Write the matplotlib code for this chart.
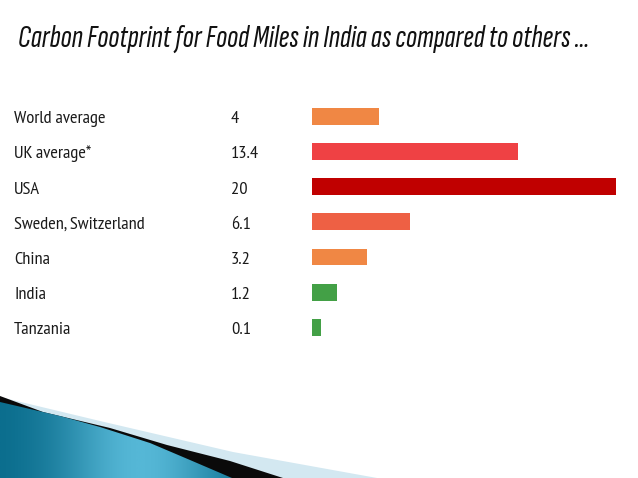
import matplotlib
matplotlib.use("Agg")
import matplotlib.pyplot as plt
import numpy as np
from matplotlib.patches import Polygon
from matplotlib.colors import LinearSegmentedColormap
from matplotlib.transforms import blended_transform_factory, ScaledTranslation

categories = ["World average", "UK average*", "USA", "Sweden, Switzerland", "China", "India", "Tanzania"]
values = [4, 13.4, 20, 6.1, 3.2, 1.2, 0.1]
value_labels = ["4", "13.4", "20", "6.1", "3.2", "1.2", "0.1"]
colors = ["#F08744", "#EF4144", "#C00000", "#EE6044", "#F08744", "#43A046", "#43A046"]
title = "Carbon Footprint for Food Miles in India as compared to others \u2026"

W, H = 638, 478
fig = plt.figure(figsize=(W / 100, H / 100), dpi=100)
fig.patch.set_facecolor("white")
renderer = fig.canvas.get_renderer()


def fit_width(t, target_px):
    w = t.get_window_extent(renderer=renderer).width
    t.set_fontsize(t.get_fontsize() * target_px / w)


# decorative background
bg = fig.add_axes([0, 0, 1, 1], zorder=0)
bg.set_xlim(0, W)
bg.set_ylim(H, 0)
bg.axis("off")
bg.add_patch(Polygon([(0, 397), (100, 421), (233, 452), (377, 478), (0, 478)], closed=True,
                     facecolor="#D3E8F1", edgecolor="none"))
bg.add_patch(Polygon([(0, 396), (43, 412), (110, 428), (167, 445), (230, 461), (283, 478), (0, 478)],
                     closed=True, facecolor="#0A0A0A", edgecolor="none"))
teal = Polygon([(0, 402), (60, 416), (100, 427), (150, 443), (190, 460), (232, 478), (0, 478)],
               closed=True, facecolor="none", edgecolor="none")
bg.add_patch(teal)
gx = np.linspace(0, 1, 256)
grad = np.exp(-((gx - 0.6) / 0.35) ** 2)
img = np.outer(np.ones(10), grad)
cmap = LinearSegmentedColormap.from_list("teal", ["#0B6E8E", "#55B7D6"])
im = bg.imshow(img, extent=[0, 235, 478, 398], cmap=cmap, aspect="auto", zorder=1)
im.set_clip_path(teal)

ax = fig.add_axes([312 / W, 1 - 345 / H, 304 / W, 246.5 / H], zorder=2)
ax.patch.set_alpha(0)
offset = 0.506
y = np.arange(len(categories))
ax.barh(y, [v + offset for v in values], left=-offset, height=0.48, color=colors)
ax.set_xlim(-offset, 20)
ax.set_ylim(len(categories) - 0.5, -0.5)
ax.axis("off")

tr = blended_transform_factory(fig.transFigure, ax.transData) + \
    ScaledTranslation(0, -7 / 100, fig.dpi_scale_trans)
font = ["PT Sans Narrow", "Roboto Condensed", "DejaVu Sans"]
texts = []
for i, (c, vl) in enumerate(zip(categories, value_labels)):
    t1 = ax.text(14 / W, i, c, transform=tr, ha="left", va="baseline", fontsize=12,
                 family=font, weight="normal", color="#1a1a1a")
    t2 = ax.text(231 / W, i, vl, transform=tr, ha="left", va="baseline", fontsize=12,
                 family=font, weight="normal", color="#1a1a1a")
    texts += [t1, t2]
fit_width(texts[6], 131)
fs = texts[6].get_fontsize()
for t in texts:
    t.set_fontsize(fs)

tt = fig.text(18 / W, 1 - 47 / H, title, ha="left", va="baseline", fontsize=20,
              family=["Sofia Sans Extra Condensed", "Barlow Condensed", "DejaVu Sans"],
              style="italic", color="#111111")
fit_width(tt, 572)

fig.savefig("out.png", dpi=100)
